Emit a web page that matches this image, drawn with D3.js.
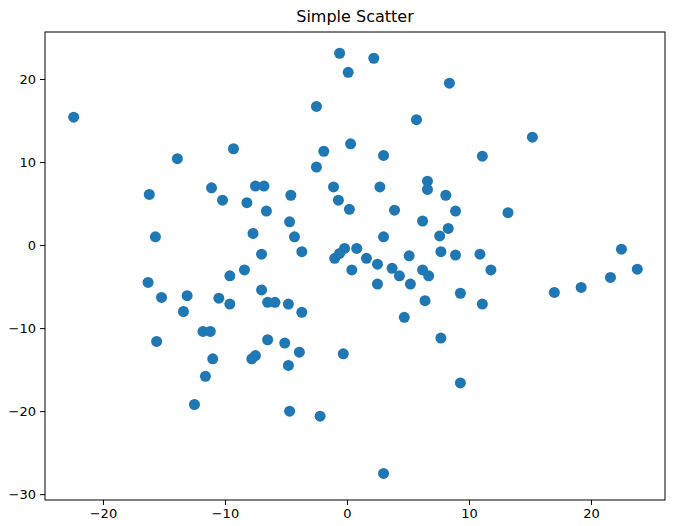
<!DOCTYPE html>
<html><head><meta charset="utf-8">
<script src="https://d3js.org/d3.v7.min.js"></script>
<style>body{margin:0;background:#fff}text{font-family:"DejaVu Sans",sans-serif}</style>
</head><body>
<svg width="680" height="526"></svg>
<script>
const title = "Simple Scatter";
const xTicks = [-20,-10,0,10,20];
const yTicks = [-30,-20,-10,0,10,20];
const xs = [-22.4,-0.6,2.2,0.1,8.4,-2.5,5.7,15.2,-9.3,-13.9,-1.9,0.3,3.0,11.1,-2.5,-16.2,-11.1,-10.2,-7.5,-6.8,-6.6,-8.2,-4.6,-4.7,-3.7,-1.1,-0.7,0.2,2.7,3.9,6.6,6.6,8.1,8.9,13.2,6.2,8.3,7.6,3.0,-15.7,-7.7,-4.3,-7.0,-1.0,-0.2,-0.6,0.8,1.6,0.4,2.5,3.7,4.3,5.2,2.5,5.1,6.2,6.7,7.7,8.9,10.9,11.8,-16.3,-15.2,-13.1,-13.4,-10.5,-9.6,-8.4,-9.6,-7.0,-6.5,-5.9,-4.8,-3.7,4.7,6.4,9.3,11.1,17.0,19.2,21.6,22.5,23.8,-15.6,-11.8,-11.2,-11.0,-6.5,-7.5,-7.8,-5.1,-3.9,-0.3,-4.8,7.7,-11.6,-12.5,-4.7,-2.2,9.3,3.0];
const ys = [15.4,23.1,22.5,20.8,19.5,16.7,15.1,13.0,11.6,10.4,11.3,12.2,10.8,10.7,9.4,6.1,6.9,5.4,7.1,7.1,4.1,5.1,6.0,2.8,-0.8,7.0,5.4,4.3,7.0,4.2,7.7,6.7,6.0,4.1,3.9,2.9,2.0,1.1,1.0,1.0,1.4,1.0,-1.1,-1.6,-0.4,-1.0,-0.4,-1.6,-3.0,-2.3,-2.8,-3.7,-4.7,-4.7,-1.3,-3.0,-3.7,-0.8,-1.2,-1.1,-3.0,-4.5,-6.3,-6.1,-8.0,-6.4,-7.1,-3.0,-3.7,-5.4,-6.9,-6.9,-7.1,-8.1,-8.7,-6.7,-5.8,-7.1,-5.7,-5.1,-3.9,-0.5,-2.9,-11.6,-10.4,-10.4,-13.7,-11.4,-13.3,-13.7,-11.8,-12.9,-13.1,-14.5,-11.2,-15.8,-19.2,-20.0,-20.6,-16.6,-27.5];

const m = {l:45, t:32, r:15, b:26}, W=680, H=526;
const svg = d3.select("svg");
const x = d3.scaleLinear().domain([-24.75, 26.07]).range([m.l, W-m.r]);
const y = d3.scaleLinear().domain([-30.7, 25.66]).range([H-m.b, m.t]);
svg.append("g").selectAll("circle").data(xs.map((v,i)=>[v,ys[i]])).join("circle")
  .attr("cx",d=>x(d[0])).attr("cy",d=>y(d[1])).attr("r",5.5).attr("fill","#1f77b4");
const gx = svg.append("g").attr("transform",`translate(0,${H-m.b})`)
  .call(d3.axisBottom(x).tickValues(xTicks).tickSize(5).tickPadding(4));
const gy = svg.append("g").attr("transform",`translate(${m.l},0)`)
  .call(d3.axisLeft(y).tickValues(yTicks).tickSize(5).tickPadding(4));
[gx,gy].forEach(g=>{g.select(".domain").remove();g.selectAll("text").attr("font-size",13).attr("fill","#000").style("font-family","DejaVu Sans");g.selectAll("line").attr("stroke","#000");});
svg.append("rect").attr("x",m.l).attr("y",m.t).attr("width",W-m.l-m.r).attr("height",H-m.t-m.b)
  .attr("fill","none").attr("stroke","#000").attr("stroke-width",1);
svg.append("text").attr("x",(m.l+W-m.r)/2).attr("y",22).attr("text-anchor","middle").attr("font-size",16).text(title);
</script>
</body></html>
